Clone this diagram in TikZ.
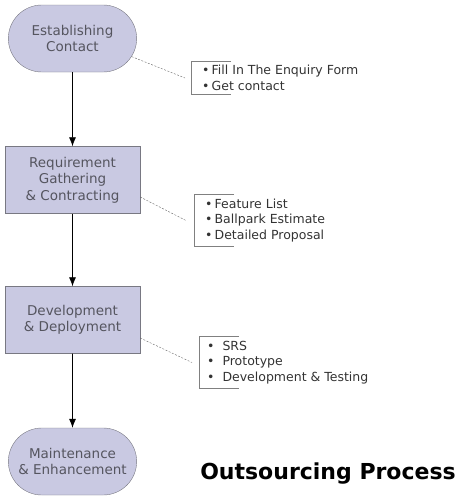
\documentclass[tikz,border=0pt]{standalone}
\usepackage{fontspec}
\setmainfont{DejaVu Sans}
\usetikzlibrary{shapes.misc,positioning,arrows.meta}

\definecolor{stepfill}{RGB}{201,201,226}
\definecolor{stepline}{RGB}{120,120,130}
\definecolor{steptext}{RGB}{85,85,95}

\tikzset{
	stadium/.style = {rounded rectangle, draw=stepline, fill=stepfill, minimum width=135pt, minimum height=67pt, align=center, text=steptext, font=\fontsize{13.5}{16.5}\selectfont},
	stepbox/.style = {rectangle, draw=stepline, fill=stepfill, minimum width=135pt, minimum height=67pt, align=center, text=steptext, font=\fontsize{13.5}{16.5}\selectfont},
	note/.style = {anchor=west, align=left, inner xsep=11pt, inner ysep=4pt, font=\fontsize{12.5}{15.5}\selectfont, text=black!80},
	bracket/.style = {draw=black!50, line width=0.8pt},
	flow/.style = {-{Latex[length=9pt,width=7pt]}, line width=0.7pt},
	callout/.style = {dashed, dash pattern=on 2pt off 1.5pt, draw=black!60, line width=0.4pt}
}

\begin{document}
\begin{tikzpicture}[x=1pt, y=-1pt]
		\useasboundingbox (0,0) rectangle (462,499);
		
		% process steps
		\node[stadium] (contact) at (72.5,38.5) {Establishing\\Contact};
		\node[stepbox] (gather) at (72.5,180) {Requirement\\Gathering\\\& Contracting};
		\node[stepbox] (develop) at (72.5,320) {Development\\\& Deployment};
		\node[stadium] (maint) at (72.5,461.5) {Maintenance\\\& Enhancement};
		
		\draw [flow] (contact) -- (gather);
		\draw [flow] (gather) -- (develop);
		\draw [flow] (develop) -- (maint);
		
		% notes
		\node[note] (n1) at (191,78) {\textbullet\,Fill In The Enquiry Form\\\textbullet\,Get contact};
		\node[note] (n2) at (194,220.5) {\textbullet\,Feature List\\\textbullet\,Ballpark Estimate\\\textbullet\,Detailed Proposal};
		\node[note, inner xsep=8pt] (n3) at (199,362.5) {\textbullet\ \ SRS\\\textbullet\ \ Prototype\\\textbullet\ \ Development \& Testing};
		
		\foreach \n in {n1,n2,n3}
			\draw [bracket] ([xshift=40pt]\n.north west) -- (\n.north west) -- (\n.south west) -- ([xshift=40pt]\n.south west);
		
		\draw [callout] (contact.-17) -- ([xshift=-6pt]n1.west);
		\draw [callout] ([yshift=-17pt]gather.east) -- ([xshift=-8pt]n2.west);
		\draw [callout] ([yshift=-18pt]develop.east) -- ([xshift=-7pt]n3.west);
		
		% title
		\node[font=\bfseries\fontsize{22}{26}\selectfont] (title) at (328,474) {Outsourcing Process};
\end{tikzpicture}
\end{document}
